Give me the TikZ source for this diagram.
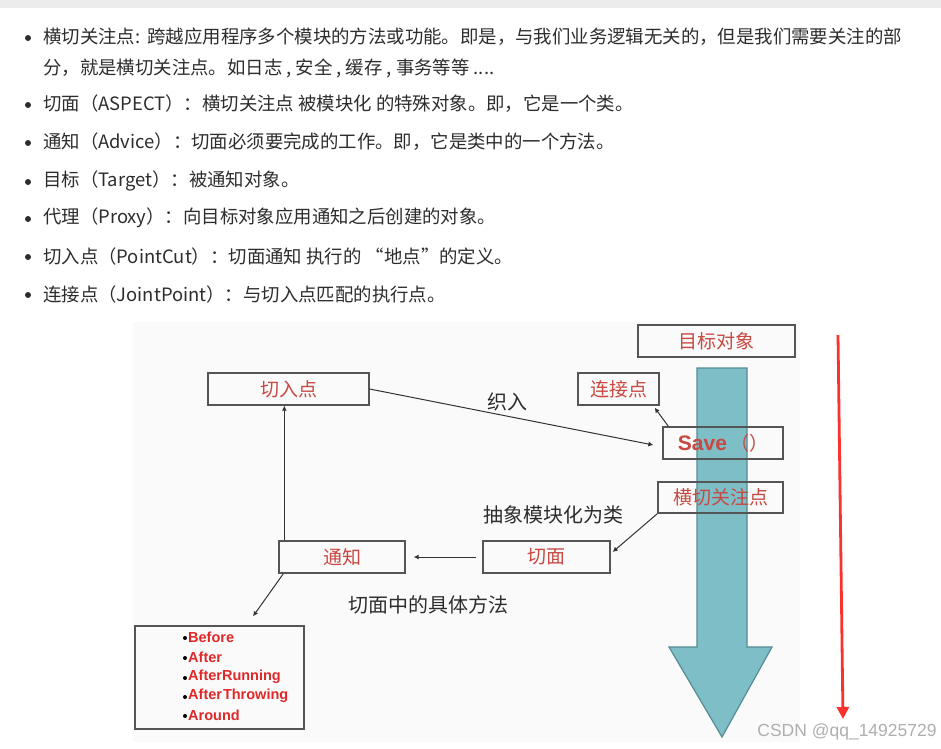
\documentclass[tikz,border=0pt]{standalone}
\usepackage{fontspec}
\setmainfont{Noto Sans CJK SC}
\newfontfamily\cjk{Noto Sans CJK SC}
\newfontfamily\arialf{Liberation Sans}
\usetikzlibrary{arrows.meta,calc}
\definecolor{bodytext}{RGB}{45,45,45}
\definecolor{boxred}{RGB}{200,72,66}
\definecolor{listred}{RGB}{225,40,40}
\definecolor{boxline}{RGB}{85,85,85}
\definecolor{teal1}{RGB}{126,190,198}
\definecolor{teal2}{RGB}{84,140,148}
\definecolor{topband}{RGB}{236,236,236}
\definecolor{diagbg}{RGB}{250,250,250}
\definecolor{redline}{RGB}{250,50,45}
\definecolor{wmark}{RGB}{175,175,175}
\begin{document}
\begin{tikzpicture}[x=1pt,y=-1pt,
  bul/.style={anchor=west,inner sep=0pt,text=bodytext,font=\cjk\fontsize{18.4}{20}\selectfont},
  dot/.style={circle,fill=bodytext,inner sep=0pt,minimum size=6pt},
  dbox/.style={draw=boxline,line width=1.3pt,inner sep=0pt,text=boxred,font=\cjk\fontsize{19}{20}\selectfont},
  lab/.style={inner sep=0pt,text=bodytext,font=\cjk\fontsize{20}{22}\selectfont},
  conn/.style={draw=black!80,line width=1pt,-{Latex[length=5pt,width=5pt]}},
  item/.style={anchor=west,inner sep=0pt,font=\arialf\bfseries\fontsize{14.5}{15}\selectfont},
  ldot/.style={circle,fill=black,inner sep=0pt,minimum size=4pt}
]
\useasboundingbox (0,0) rectangle (941,748);
\fill[white] (0,0) rectangle (941,748);
\fill[topband] (0,0) rectangle (941,8);

% bullet list
\foreach \yy in {37,104,142,181,218,256,294} {\node[dot] at (28,\yy+1) {};}
\node[bul] (t1) at (43,37) {横切关注点:\kern3pt\ 跨越应用程序多个模块的方法或功能。即是，与我们业务逻辑无关的，但是我们需要关注的部};
\node[bul] (t2) at (43,68) {分，就是横切关注点。如日志 , 安全 , 缓存 , 事务等等 ....};
\node[bul] (t3) at (43,104) {切面（ASPECT）：横切关注点 被模块化 的特殊对象。即，它是一个类。};
\node[bul] (t4) at (43,142) {通知（Advice）：切面必须要完成的工作。即，它是类中的一个方法。};
\node[bul] (t5) at (43,181) {目标（Target）：被通知对象。};
\node[bul] (t6) at (43,218) {代理（Proxy）：向目标对象应用通知之后创建的对象。};
\node[bul] (t7) at (43,256) {切入点（PointCut）：切面通知 执行的 “地点”的定义。};
\node[bul] (t8) at (43,294) {连接点（JointPoint）：与切入点匹配的执行点。};

% diagram background
\fill[diagbg] (133,322) rectangle (800,742);

% big teal arrow
\filldraw[fill=teal1,draw=teal2,line width=1.2pt]
  (697,368) -- (747,368) -- (747,647) -- (772,647) -- (722,737) -- (669,647) -- (697,647) -- cycle;

% boxes
\node[dbox,minimum width=157pt,minimum height=32pt] (mubiao) at (716.5,341) {目标对象};
\node[dbox,minimum width=81pt,minimum height=32pt] (lianjie) at (618.5,389) {连接点};
\node[dbox,minimum width=120pt,minimum height=32pt] (save) at (723,443) {{\arialf\bfseries\fontsize{21}{22}\selectfont Save}\kern3pt（）};
\node[dbox,minimum width=125pt,minimum height=31pt] (hengqie) at (720.5,497.5) {横切关注点};
\node[dbox,minimum width=127pt,minimum height=32pt] (qiemian) at (546.5,557) {切面};
\node[dbox,minimum width=126pt,minimum height=32pt] (tongzhi) at (342,557) {通知};
\node[dbox,minimum width=161pt,minimum height=32pt] (qierudian) at (288.5,389) {切入点};
\node[draw=boxline,line width=1.3pt,minimum width=169pt,minimum height=103pt,inner sep=0pt] (list) at (219.5,677.5) {};
\foreach \nm/\yy/\tx in {i1/637/Before,i2/657/After,i3/677/AfterRunning,i4/696/After\kern1pt Throwing,i5/715/Around} {
  \node[ldot] (\nm d) at (185,\yy+1) {};
  \node[item,text=listred] (\nm) at (188,\yy) {\tx};
}

% labels
\node[lab] (l1) at (507,402) {织入};
\node[lab] (l2) at (553,515) {抽象模块化为类};
\node[lab] (l3) at (428,605) {切面中的具体方法};

% connectors
\draw[conn] (qierudian.east) -- ([xshift=-9pt,yshift=-2pt]save.west);
\draw[conn] ([xshift=6pt]save.north west) -- ([xshift=-5pt,yshift=-2pt]lianjie.south east);
\draw[conn] (hengqie.south west) -- ([xshift=2pt,yshift=5pt]qiemian.east);
\draw[conn,shorten <=6pt,shorten >=8pt] (qiemian.west) -- (tongzhi.east);
\draw[conn] ([xshift=6pt]tongzhi.north west) -- ([xshift=6pt]tongzhi.north west |- qierudian.south);
\draw[conn] ([xshift=5pt]tongzhi.south west) -- ([xshift=33.5pt,yshift=9pt]list.north);

% red arrow
\coordinate (rtop) at (838,335);
\coordinate (rbot) at (843,719);
\draw[redline,line width=2.8pt,-{Triangle[length=12pt,width=12pt]}] (rtop) -- (rbot);

% watermark
\node[inner sep=0pt,text=wmark,font=\arialf\fontsize{17.5}{18}\selectfont] (wm) at (847,732) {CSDN @qq\_14925729};
\end{tikzpicture}
\end{document}
